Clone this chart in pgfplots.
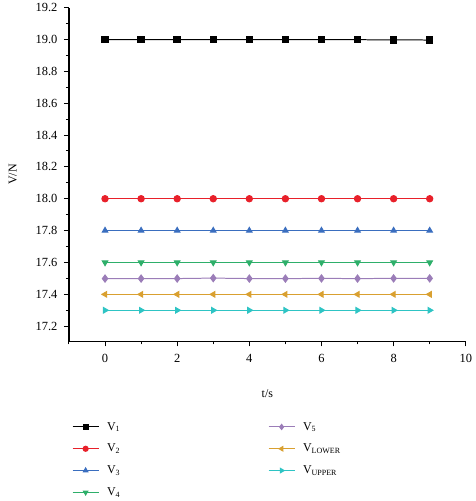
\documentclass[border=0pt]{standalone}
\usepackage{pgfplots}
\pgfplotsset{compat=1.18}
\usepackage{fontspec}
\setmainfont{Liberation Serif}
\definecolor{c1}{HTML}{000000}
\definecolor{c2}{HTML}{E8202A}
\definecolor{c3}{HTML}{3A6EBF}
\definecolor{c4}{HTML}{2EAF6A}
\definecolor{c5}{HTML}{9B7DB8}
\definecolor{c6}{HTML}{D9A030}
\definecolor{c7}{HTML}{2EC4C4}
\begin{document}
\begin{tikzpicture}[x=1bp,y=1bp,trim left=-69bp]
\begin{axis}[
  scale only axis,
  width=397bp, height=334bp,
  xmin=-1, xmax=10, ymin=17.105, ymax=19.2,
  axis lines*=left,
  axis line style={line width=1.2pt},
  xtick={0,2,...,10},
  minor xtick={-1,1,3,5,7,9},
  ytick={17.2,17.4,...,19.21},
  minor ytick={17.3,17.5,...,19.11},
  tick style={line width=1pt, black},
  tick align=outside,
  major tick length=5bp, minor tick length=3bp,
  yticklabel style={xshift=-3bp, /pgf/number format/.cd, fixed, fixed zerofill, precision=1},
  /pgf/number format/assume math mode=true,
  tick label style={font=\fontsize{12.5}{14}\selectfont},
  label style={font=\fontsize{12}{14}\selectfont},
  xticklabel style={yshift=-4bp},
  xlabel={t/s}, ylabel={V/N},
  xlabel style={yshift=-21bp},
  ylabel style={yshift=12bp},
  every axis plot/.append style={line width=1pt, mark size=3.2pt,
     mark options={solid, draw=white, line width=0.5pt}},
  legend style={draw=none, at={(0,-0.23)}, anchor=north west, font=\fontsize{12}{14}\selectfont,
    /tikz/every even column/.append style={column sep=146bp},
    row sep=8.5bp},
  legend columns=2,
  legend cell align=left,
  legend image code/.code={
    \draw[mark repeat=2,mark phase=2,#1, mark size=2.6pt] plot coordinates {(0bp,0bp) (13bp,0bp) (26bp,0bp)};
    \path (32bp,0bp);
  },
]
\addplot[c1, mark=square*, mark options={fill=c1}] coordinates {(0,18.998)(1,18.998)(2,18.998)(3,18.998)(4,18.998)(5,18.999)(6,18.998)(7,18.998)(8,18.997)(9,18.996)};
\addlegendentry{V\textsubscript{1}}
\addplot[c5, mark=diamond*, mark size=3.6pt, mark options={fill=c5}] coordinates {(0,17.499)(1,17.499)(2,17.499)(3,17.502)(4,17.499)(5,17.499)(6,17.5)(7,17.499)(8,17.5)(9,17.5)};
\addlegendentry{V\textsubscript{5}}
\addplot[c2, mark=*, mark options={fill=c2}] coordinates {(0,18.0)(1,18.0)(2,18.0)(3,18.0)(4,18.0)(5,18.0)(6,18.0)(7,18.0)(8,18.0)(9,18.0)};
\addlegendentry{V\textsubscript{2}}
\addplot[c6, mark=triangle*, mark options={rotate=90, fill=c6}] coordinates {(0,17.4)(1,17.4)(2,17.4)(3,17.4)(4,17.4)(5,17.4)(6,17.4)(7,17.4)(8,17.4)(9,17.4)};
\addlegendentry{V\textsubscript{LOWER}}
\addplot[c3, mark=triangle*, mark options={fill=c3}] coordinates {(0,17.8)(1,17.8)(2,17.8)(3,17.8)(4,17.8)(5,17.8)(6,17.8)(7,17.8)(8,17.8)(9,17.8)};
\addlegendentry{V\textsubscript{3}}
\addplot[c7, mark=triangle*, mark options={rotate=-90, fill=c7}] coordinates {(0,17.3)(1,17.3)(2,17.3)(3,17.3)(4,17.3)(5,17.3)(6,17.3)(7,17.3)(8,17.3)(9,17.3)};
\addlegendentry{V\textsubscript{UPPER}}
\addplot[c4, mark=triangle*, mark options={rotate=180, fill=c4}] coordinates {(0,17.6)(1,17.6)(2,17.6)(3,17.6)(4,17.6)(5,17.6)(6,17.6)(7,17.6)(8,17.6)(9,17.6)};
\addlegendentry{V\textsubscript{4}}
\end{axis}
\end{tikzpicture}
\end{document}
